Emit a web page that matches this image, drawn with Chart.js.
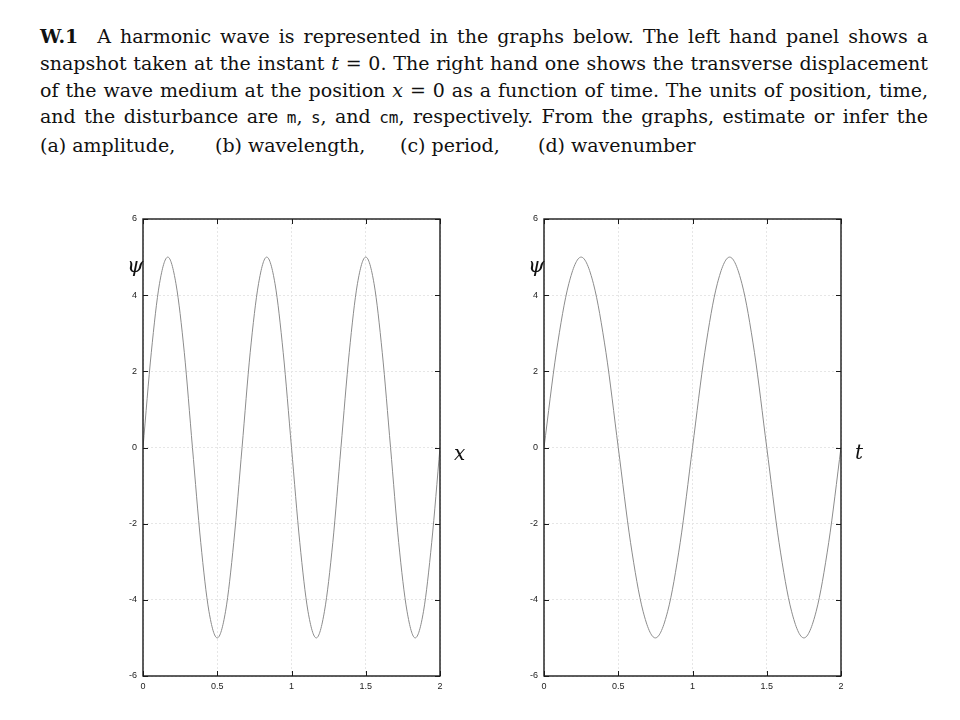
<!DOCTYPE html>
<html>
<head>
<meta charset="utf-8">
<script src="https://cdn.jsdelivr.net/npm/chart.js@4.4.1/dist/chart.umd.min.js"></script>
<style>
  html, body { margin: 0; padding: 0; background: #fff; }
  body { width: 960px; height: 720px; position: relative; overflow: hidden; }
  #text { position: absolute; left: 40px; top: 23px; width: 888px;
          font-family: "DejaVu Serif", serif; font-size: 19px; line-height: 26.75px; color: #111; }
  #text .ln { text-align: justify; text-align-last: justify; white-space: nowrap; }
  #text .last { position: relative; height: 26.75px; }
  #text .last span { position: absolute; top: 0; }
  .tt { font-family: "DejaVu Sans Mono", monospace; font-size: 16px; }
  .wrap { position: absolute; top: 205px; width: 360px; height: 500px; }
  .lab { position: absolute; font-family: "DejaVu Serif", serif; font-style: italic; line-height: 1; color: #111; }
</style>
</head>
<body>

<div id="text">
  <div class="ln"><b style="margin-right:10px">W.1</b> A harmonic wave is represented in the graphs below. The left hand panel shows a</div>
  <div class="ln">snapshot taken at the instant <i>t</i> = 0. The right hand one shows the transverse displacement</div>
  <div class="ln">of the wave medium at the position <i>x</i> = 0 as a function of time. The units of position, time,</div>
  <div class="ln">and the disturbance are <span class="tt">m</span>, <span class="tt">s</span>, and <span class="tt">cm</span>, respectively. From the graphs, estimate or infer the</div>
  <div class="last">
    <span style="left:0">(a) amplitude,</span>
    <span style="left:175px">(b) wavelength,</span>
    <span style="left:360px">(c) period,</span>
    <span style="left:498px">(d) wavenumber</span>
  </div>
</div>

<div class="wrap" style="left:100px"><canvas id="snapshot"></canvas></div>
<div class="wrap" style="left:501px"><canvas id="history"></canvas></div>

<div class="lab" style="left:127px; top:255px; font-size:21px">ψ</div>
<div class="lab" style="left:528px; top:255px; font-size:21px">ψ</div>
<div class="lab" style="left:454px; top:443px; font-size:20px">x</div>
<div class="lab" style="left:855px; top:442px; font-size:20px">t</div>

<script>

// left panel: psi against position at t = 0
const posX = [0, 0.056, 0.111, 0.167, 0.222, 0.278, 0.333, 0.389, 0.444, 0.5,
    0.556, 0.611, 0.667, 0.722, 0.778, 0.833, 0.889, 0.944, 1,
    1.056, 1.111, 1.167, 1.222, 1.278, 1.333, 1.389, 1.444, 1.5,
    1.556, 1.611, 1.667, 1.722, 1.778, 1.833, 1.889, 1.944, 2]

const snapshotPsi = [0, 2.5, 4.3, 5, 4.3, 2.5, 0, -2.5, -4.3, -5,
    -4.3, -2.5, 0, 2.5, 4.3, 5, 4.3, 2.5, 0,
    -2.5, -4.3, -5, -4.3, -2.5, 0, 2.5, 4.3, 5,
    4.3, 2.5, 0, -2.5, -4.3, -5, -4.3, -2.5, 0]

// right panel: psi against time at x = 0
const timeT = [0, 0.083, 0.167, 0.25, 0.333, 0.417, 0.5, 0.583, 0.667, 0.75,
    0.833, 0.917, 1, 1.083, 1.167, 1.25, 1.333, 1.417, 1.5,
    1.583, 1.667, 1.75, 1.833, 1.917, 2]

const historyPsi = [0, 2.5, 4.3, 5, 4.3, 2.5, 0, -2.5, -4.3, -5,
    -4.3, -2.5, 0, 2.5, 4.3, 5, 4.3, 2.5, 0,
    -2.5, -4.3, -5, -4.3, -2.5, 0]

const xTicks = [0, 0.5, 1, 1.5, 2]
const yTicks = [-6, -4, -2, 0, 2, 4, 6]


// box round the plot with short ticks pointing inwards on every side
const framePlugin = {

    id: "frame",

    afterDatasetsDraw(chart){

        const ctx = chart.ctx
        const a = chart.chartArea
        const sx = chart.scales.x
        const sy = chart.scales.y
        const len = 5

        ctx.save()
        ctx.strokeStyle = "#1a1a1a"
        ctx.lineWidth = 1.4
        ctx.strokeRect(a.left, a.top, a.right - a.left, a.bottom - a.top)

        ctx.lineWidth = 1
        ctx.beginPath()

        sx.ticks.forEach(t=>{
            const px = Math.round(sx.getPixelForValue(t.value)) + 0.5
            ctx.moveTo(px, a.bottom); ctx.lineTo(px, a.bottom - len)
            ctx.moveTo(px, a.top); ctx.lineTo(px, a.top + len)
        })

        sy.ticks.forEach(t=>{
            const py = Math.round(sy.getPixelForValue(t.value)) + 0.5
            ctx.moveTo(a.left, py); ctx.lineTo(a.left + len, py)
            ctx.moveTo(a.right, py); ctx.lineTo(a.right - len, py)
        })

        ctx.stroke()
        ctx.restore()

    }

}


function makePanel(id, xs, ys){

    const points = xs.map((x,i)=>({x:x, y:ys[i]}))

    new Chart(document.getElementById(id),{

        type:"line",

        data:{
            datasets:[{
                data:points,
                borderColor:"#8c8c8c",
                borderWidth:1,
                pointRadius:0,
                cubicInterpolationMode:"monotone",
                fill:false
            }]
        },

        options:{
            responsive:true,
            maintainAspectRatio:false,
            animation:false,
            events:[],
            layout:{ padding:{ left:23, right:20, top:14, bottom:11 } },
            plugins:{ legend:{ display:false }, tooltip:{ enabled:false } },
            scales:{
                x:{
                    type:"linear",
                    min:0,
                    max:2,
                    afterBuildTicks: s=>{ s.ticks = xTicks.map(v=>({value:v})) },
                    afterFit: s=>{ s.height = 18 },
                    grid:{ color:"#e6e6e6", lineWidth:1, drawTicks:false },
                    border:{ display:false, dash:[2,2] },
                    ticks:{ padding:5, color:"#222", maxRotation:0,
                            callback: v=>String(v),
                            font:{ family:"Liberation Sans", size:9 } }
                },
                y:{
                    type:"linear",
                    min:-6,
                    max:6,
                    afterBuildTicks: s=>{ s.ticks = yTicks.map(v=>({value:v})) },
                    afterFit: s=>{ s.width = 20 },
                    grid:{ color:"#e6e6e6", lineWidth:1, drawTicks:false },
                    border:{ display:false, dash:[2,2] },
                    ticks:{ padding:6, color:"#222",
                            callback: v=>String(v),
                            font:{ family:"Liberation Sans", size:9 } }
                }
            }
        },

        plugins:[framePlugin]

    })

}

makePanel("snapshot", posX, snapshotPsi)
makePanel("history", timeT, historyPsi)

</script>
</body>
</html>
